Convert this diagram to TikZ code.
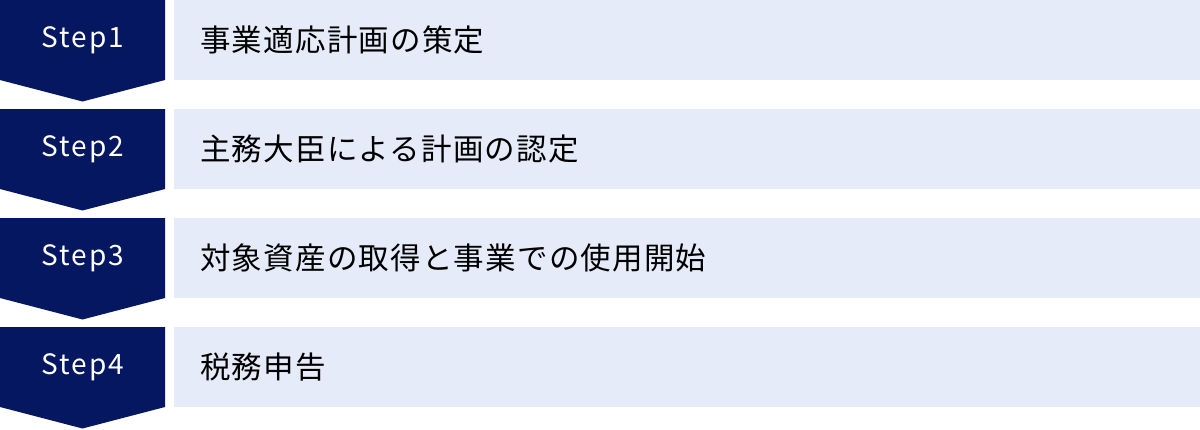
\documentclass[tikz,border=0pt]{standalone}
\usepackage{fontspec}
\newfontfamily\jpfont[LetterSpace=4]{Noto Sans CJK JP}
\newfontfamily\stepfont[LetterSpace=7]{Noto Sans CJK JP}
\definecolor{navy}{HTML}{061761}
\definecolor{lightbg}{HTML}{E5EBF8}
\tikzset{
  stepshape/.style={fill=navy},
  steplabel/.style={text=white, font=\stepfont\fontsize{28}{32}\selectfont, inner sep=0pt},
  lightbox/.style={fill=lightbg, minimum width=1026pt, minimum height=80pt, inner sep=0pt, anchor=north west},
  boxtext/.style={font=\jpfont\fontsize{30.5}{34}\selectfont, text=black, anchor=west, inner sep=0pt}
}
\begin{document}
\begin{tikzpicture}[x=1pt,y=-1pt]
\useasboundingbox (0,0) rectangle (1200,429);
\foreach \i/\t in {1/事業適応計画の策定,2/主務大臣による計画の認定,3/対象資産の取得と事業での使用開始,4/税務申告}{
  \pgfmathsetmacro{\top}{(\i-1)*109}
  \fill[stepshape] (0,\top) -- (165,\top) -- (165,\top+80) -- (82.5,\top+101.5) -- (0,\top+80) -- cycle;
  \node[steplabel] (s\i) at (83,\top+40) {Step\i};
  \node[lightbox] (b\i) at (174,\top) {};
  \node[boxtext] (t\i) at ([xshift=26pt]b\i.west) {\t};
}
\end{tikzpicture}
\end{document}
